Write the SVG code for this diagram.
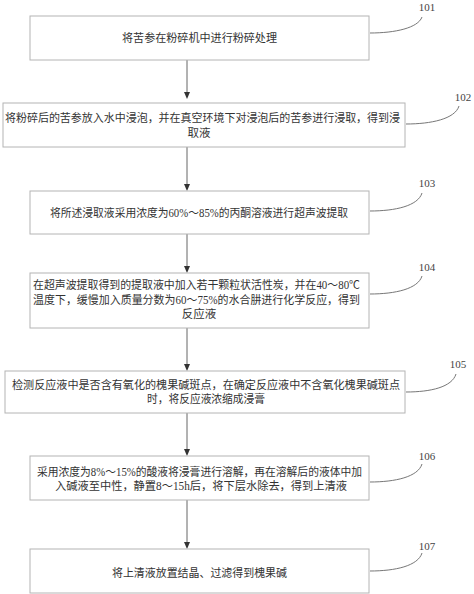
<svg xmlns="http://www.w3.org/2000/svg" width="474" height="594" viewBox="0 0 474 594">
<style>
.box{fill:#fff;stroke:#b4b4b4;stroke-width:1}
.t{font-family:"Liberation Serif","Noto Sans CJK SC",serif;font-size:11.5px;fill:#333;text-anchor:middle}
.lab{font-family:"Liberation Serif",serif;font-size:11px;fill:#444;text-anchor:middle}
.ln{fill:none;stroke:#666;stroke-width:1}
.ld{fill:none;stroke:#777;stroke-width:1}
</style>
<defs>
<marker id="ah" markerWidth="6" markerHeight="7" refX="3" refY="7" orient="auto-start-reverse" markerUnits="userSpaceOnUse" viewBox="0 0 6 7">
<path d="M0,0 L6,0 L3,7 Z" fill="#333" transform="rotate(-90 3 3.5)"/>
</marker>
</defs>
<rect width="474" height="594" fill="#fff"/>
<g id="connectors">
<path class="ln" d="M187,60 V93"/><path d="M184,92 L190,92 L187,99 Z" fill="#333"/>
<path class="ln" d="M187,147 V184"/><path d="M184,184 L190,184 L187,191 Z" fill="#333"/>
<path class="ln" d="M187,234 V266"/><path d="M184,266 L190,266 L187,273 Z" fill="#333"/>
<path class="ln" d="M187,328 V364"/><path d="M184,364 L190,364 L187,371 Z" fill="#333"/>
<path class="ln" d="M187,413 V449"/><path d="M184,449 L190,449 L187,456 Z" fill="#333"/>
<path class="ln" d="M187,500 V542"/><path d="M184,542 L190,542 L187,549 Z" fill="#333"/>
</g>
<g id="leaders">
<path class="ld" d="M370,33 C395,33 418,28 422,17"/>
<path class="ld" d="M406,124 C431,124 455,119 459,106"/>
<path class="ld" d="M370,211 C395,211 418,206 422,193"/>
<path class="ld" d="M370,294 C395,294 418,289 422,276"/>
<path class="ld" d="M406,392 C431,392 452,387 456,374"/>
<path class="ld" d="M370,482 C395,482 418,477 422,464"/>
<path class="ld" d="M370,571 C395,571 418,566 422,553"/>
</g>
<g id="n101">
<rect class="box" x="30" y="16" width="339" height="44"/>
<text class="t" x="199.5" y="42" textLength="155" lengthAdjust="spacingAndGlyphs">将苦参在粉碎机中进行粉碎处理</text>
<text class="lab" x="427" y="11">101</text>
</g>
<g id="n102">
<rect class="box" x="3" y="103" width="402" height="44"/>
<text class="t" x="202.5" y="122" textLength="395" lengthAdjust="spacingAndGlyphs">将粉碎后的苦参放入水中浸泡，并在真空环境下对浸泡后的苦参进行浸取，得到浸</text>
<text class="t" x="199" y="137">取液</text>
<text class="lab" x="463" y="101">102</text>
</g>
<g id="n103">
<rect class="box" x="30" y="191" width="339" height="43"/>
<text class="t" x="199" y="217" textLength="298" lengthAdjust="spacingAndGlyphs">将所述浸取液采用浓度为60%～85%的丙酮溶液进行超声波提取</text>
<text class="lab" x="427" y="187">103</text>
</g>
<g id="n104">
<rect class="box" x="30" y="273" width="339" height="55"/>
<text class="t" x="196.5" y="289" textLength="327" lengthAdjust="spacingAndGlyphs">在超声波提取得到的提取液中加入若干颗粒状活性炭，并在40～80℃</text>
<text class="t" x="196.5" y="304" textLength="327" lengthAdjust="spacingAndGlyphs">温度下，缓慢加入质量分数为60～75%的水合肼进行化学反应，得到</text>
<text class="t" x="199" y="318">反应液</text>
<text class="lab" x="427" y="271">104</text>
</g>
<g id="n105">
<rect class="box" x="5" y="371" width="400" height="42"/>
<text class="t" x="206" y="389" textLength="388" lengthAdjust="spacingAndGlyphs">检测反应液中是否含有氧化的槐果碱斑点，在确定反应液中不含氧化槐果碱斑点</text>
<text class="t" x="206" y="403" textLength="118" lengthAdjust="spacingAndGlyphs">时，将反应液浓缩成浸膏</text>
<text class="lab" x="458" y="368">105</text>
</g>
<g id="n106">
<rect class="box" x="30" y="456" width="339" height="44"/>
<text class="t" x="199.5" y="476" textLength="325" lengthAdjust="spacingAndGlyphs">采用浓度为8%～15%的酸液将浸膏进行溶解，再在溶解后的液体中加</text>
<text class="t" x="201" y="490" textLength="292" lengthAdjust="spacingAndGlyphs">入碱液至中性，静置8～15h后，将下层水除去，得到上清液</text>
<text class="lab" x="427" y="460">106</text>
</g>
<g id="n107">
<rect class="box" x="30" y="549" width="339" height="44"/>
<text class="t" x="199.5" y="577" textLength="175" lengthAdjust="spacingAndGlyphs">将上清液放置结晶、过滤得到槐果碱</text>
<text class="lab" x="427" y="550">107</text>
</g>
</svg>
